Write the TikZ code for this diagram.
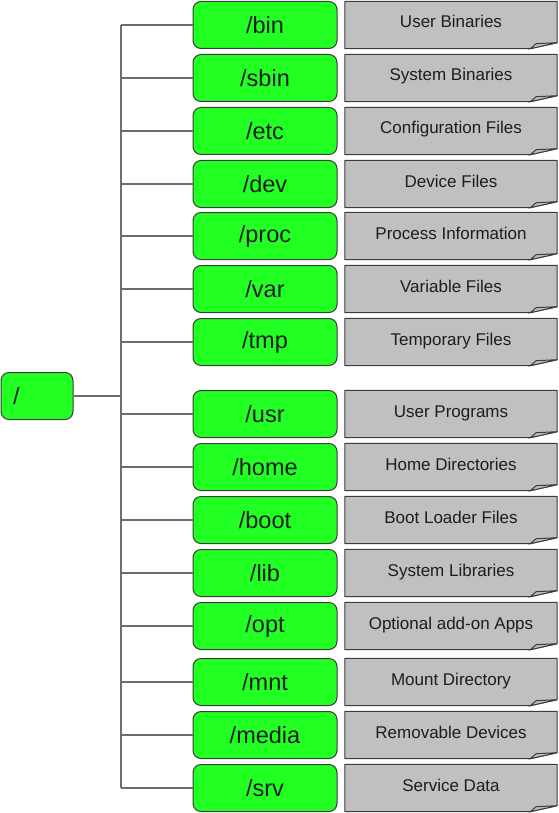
\documentclass[tikz,border=0pt]{standalone}
\usepackage{fontspec}
\setmainfont{Liberation Sans}
\usetikzlibrary{calc}
\definecolor{dirgreen}{RGB}{34,255,34}
\definecolor{notegray}{RGB}{192,192,192}
\definecolor{edgegray}{RGB}{60,60,60}
\definecolor{linegray}{RGB}{110,110,110}
\definecolor{txt}{RGB}{28,28,36}
\begin{document}
\begin{tikzpicture}[x=1pt,y=-1pt,
  dirbox/.style={draw=edgegray, line width=1pt, fill=dirgreen, rounded corners=8pt,
    minimum width=144pt, minimum height=47pt, inner sep=0pt,
    font=\fontsize{23.5}{28}\selectfont, text=txt},
  notebox/.style={minimum width=212pt, minimum height=47pt, inner sep=0pt},
  noteshape/.style={draw=edgegray, line width=1pt, fill=notegray},
  notetext/.style={font=\fontsize{17}{20}\selectfont, text=txt, inner sep=0pt, anchor=base},
  conn/.style={draw=linegray, line width=1.5pt}]
\useasboundingbox (0,0) rectangle (558,813);

% root
\node[dirbox, minimum width=72pt, text width=48pt, align=left] (root) at (37,396) {/};
\coordinate (trunk) at (121,396);
\coordinate (trunktop) at (121,25);
\coordinate (trunkbot) at (121,788);
\draw[conn] (root.east) -- (trunk);
\draw[conn] (trunktop) -- (trunkbot);

\foreach \name/\ypos/\desc in {
  bin/25/User Binaries,
  sbin/78/System Binaries,
  etc/131/Configuration Files,
  dev/184/Device Files,
  proc/236/Process Information,
  var/289/Variable Files,
  tmp/342/Temporary Files,
  usr/414/User Programs,
  home/467/Home Directories,
  boot/520/Boot Loader Files,
  lib/573/System Libraries,
  opt/626/Optional add-on Apps,
  mnt/682/Mount Directory,
  media/735/Removable Devices,
  srv/788/Service Data}{
  \node[dirbox] (d\name) at (265,\ypos) {/\name};
  \draw[conn] (d\name.west) -- (d\name.west -| trunk);
  \node[notebox] (n\name) at (451,\ypos) {};
  \path[noteshape] (n\name.north west) -- (n\name.north east)
    -- ($(n\name.south east)+(0,-6)$) -- ($(n\name.south east)+(-27,0)$)
    -- (n\name.south west) -- cycle;
  \path[noteshape] ($(n\name.south east)+(-27,0)$) -- ($(n\name.south east)+(-21,-5)$)
    -- ($(n\name.south east)+(0,-6)$) -- cycle;
  \node[notetext] (t\name) at ($(n\name.center)+(0,3)$) {\desc};
}
\end{tikzpicture}
\end{document}
